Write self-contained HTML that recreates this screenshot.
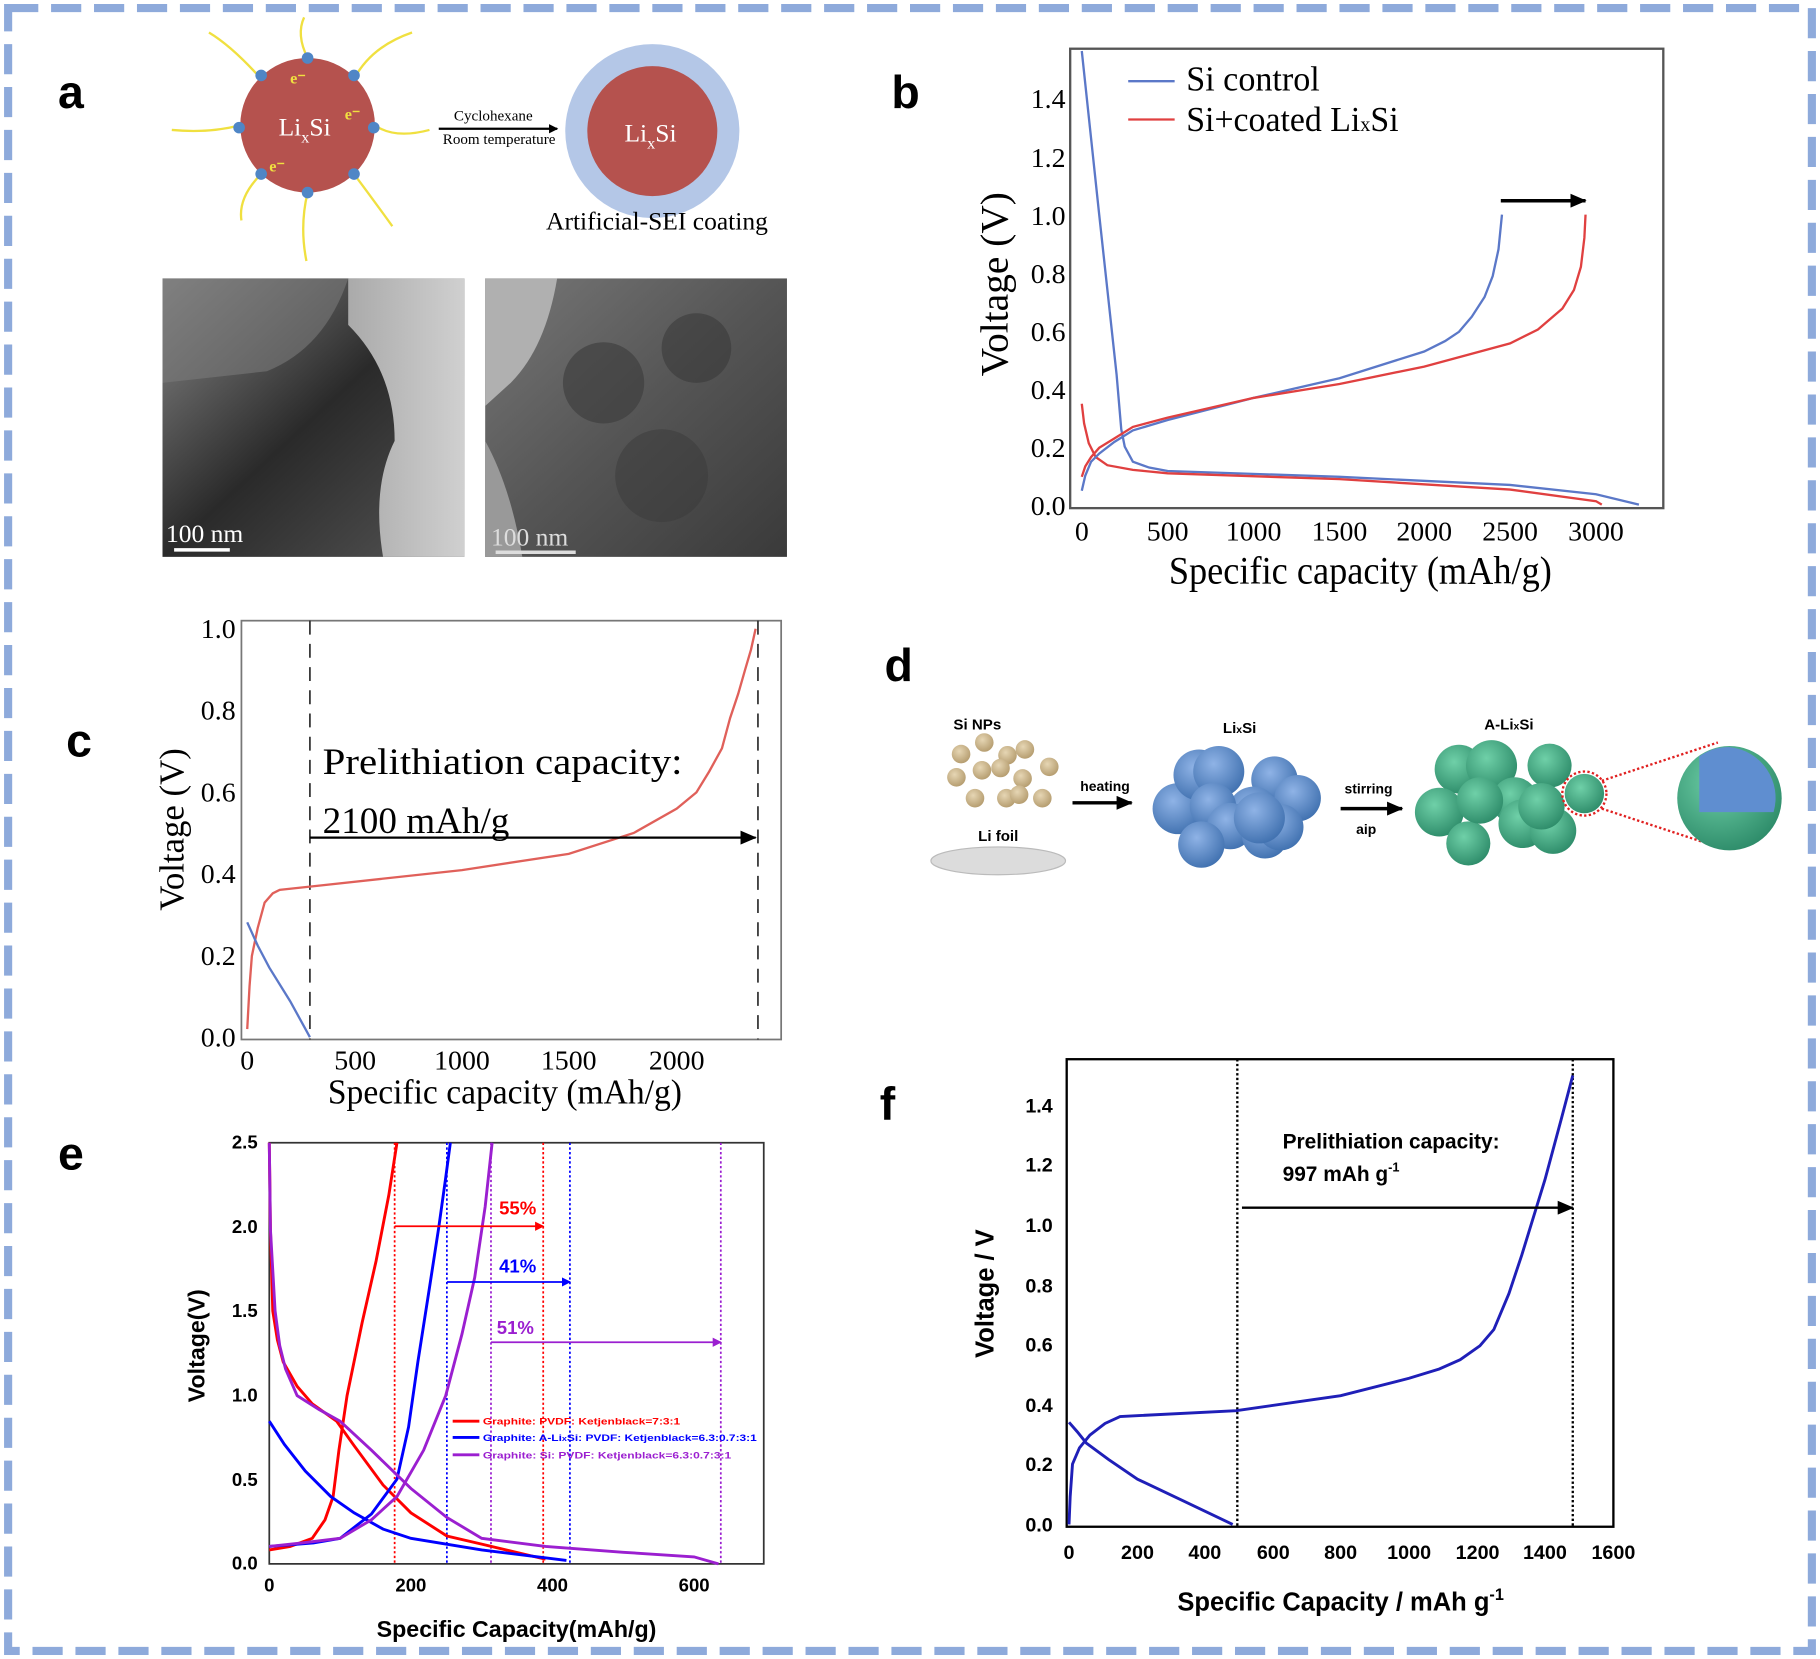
<!DOCTYPE html>
<html><head><meta charset="utf-8"><style>
html,body{margin:0;padding:0;background:#fff;}
svg{display:block;}
.serif{font-family:"Liberation Serif",serif;}
.sans{font-family:"Liberation Sans",sans-serif;}
</style></head><body>
<svg width="1820" height="1659" viewBox="0 0 1568 1430" preserveAspectRatio="none" xmlns="http://www.w3.org/2000/svg">
<defs>
<linearGradient id="tem1" x1="0" y1="0" x2="1" y2="1"><stop offset="0" stop-color="#8a8a8a"/><stop offset="0.5" stop-color="#2a2a2a"/><stop offset="1" stop-color="#555"/></linearGradient>
<linearGradient id="tem2" x1="0" y1="0" x2="1" y2="1"><stop offset="0" stop-color="#777"/><stop offset="0.5" stop-color="#555"/><stop offset="1" stop-color="#3a3a3a"/></linearGradient>
<linearGradient id="lt" x1="0" y1="0" x2="1" y2="0"><stop offset="0" stop-color="#aaa"/><stop offset="1" stop-color="#d0d0d0"/></linearGradient>
<radialGradient id="gb" cx="0.4" cy="0.35" r="0.7"><stop offset="0" stop-color="#8fb3e6"/><stop offset="1" stop-color="#3e6fae"/></radialGradient>
<radialGradient id="gg" cx="0.4" cy="0.35" r="0.7"><stop offset="0" stop-color="#6fd0a8"/><stop offset="1" stop-color="#2c8a68"/></radialGradient>
<radialGradient id="gt" cx="0.4" cy="0.35" r="0.7"><stop offset="0" stop-color="#e6d6b4"/><stop offset="1" stop-color="#b39a6c"/></radialGradient>
<marker id="ah" markerWidth="8" markerHeight="8" refX="7" refY="4" orient="auto" markerUnits="userSpaceOnUse"><path d="M0,0 L8,4 L0,8 z" fill="#000"/></marker>
<marker id="ahb" markerWidth="14" markerHeight="12" refX="13" refY="6" orient="auto" markerUnits="userSpaceOnUse"><path d="M0,0 L14,6 L0,12 z" fill="#000"/></marker>
<marker id="ar" markerWidth="8" markerHeight="8" refX="7" refY="4" orient="auto" markerUnits="userSpaceOnUse"><path d="M0,0 L8,4 L0,8 z" fill="#f00"/></marker>
<marker id="ab" markerWidth="8" markerHeight="8" refX="7" refY="4" orient="auto" markerUnits="userSpaceOnUse"><path d="M0,0 L8,4 L0,8 z" fill="#00f"/></marker>
<marker id="ap" markerWidth="8" markerHeight="8" refX="7" refY="4" orient="auto" markerUnits="userSpaceOnUse"><path d="M0,0 L8,4 L0,8 z" fill="#9b1fd0"/></marker>
</defs>
<rect x="7" y="7" width="1554" height="1416" fill="none" stroke="#8eaadb" stroke-width="7" stroke-dasharray="26,11"/>

<!-- panel a -->
<text x="50" y="93" class="sans" font-size="40" font-weight="bold">a</text>
<g stroke="#f0e040" stroke-width="2" fill="none">
<path d="M265,50 Q255,30 262,15"/><path d="M265,166 Q258,195 264,225"/><path d="M207,108 Q180,115 148,112"/>
<path d="M225,68 Q200,40 180,28"/><path d="M305,68 Q320,40 355,28"/><path d="M225,150 Q205,170 208,190"/><path d="M305,150 Q320,170 338,195"/><path d="M323,108 Q340,120 370,112"/>
</g>
<circle cx="265" cy="108" r="58" fill="#b5524e"/>
<g fill="#4f86c6"><circle cx="265" cy="50" r="5"/><circle cx="265" cy="166" r="5"/><circle cx="206" cy="110" r="5"/><circle cx="322" cy="110" r="5"/><circle cx="225" cy="65" r="5"/><circle cx="305" cy="65" r="5"/><circle cx="225" cy="150" r="5"/><circle cx="305" cy="150" r="5"/></g>
<text x="240" y="117" class="serif" font-size="22" fill="#fff">Li<tspan font-size="14" dy="6">x</tspan><tspan dy="-6">Si</tspan></text>
<text x="250" y="72" class="serif" font-size="14" fill="#f0e040" font-weight="bold">e⁻</text>
<text x="297" y="103" class="serif" font-size="14" fill="#f0e040" font-weight="bold">e⁻</text>
<text x="232" y="148" class="serif" font-size="14" fill="#f0e040" font-weight="bold">e⁻</text>
<line x1="378" y1="111" x2="480" y2="111" stroke="#000" stroke-width="2" marker-end="url(#ah)"/>
<text x="425" y="104" class="serif" font-size="13" text-anchor="middle">Cyclohexane</text>
<text x="430" y="124" class="serif" font-size="13" text-anchor="middle">Room temperature</text>
<circle cx="562" cy="113" r="75" fill="#b4c7e7"/>
<circle cx="562" cy="113" r="56" fill="#b5524e"/>
<text x="538" y="122" class="serif" font-size="22" fill="#fff">Li<tspan font-size="14" dy="6">x</tspan><tspan dy="-6">Si</tspan></text>
<text x="566" y="198" class="serif" font-size="22" text-anchor="middle">Artificial-SEI coating</text>
<rect x="140" y="240" width="260" height="240" fill="url(#tem1)"/>
<path d="M300,240 L400,240 L400,480 L330,480 Q320,420 340,380 Q340,320 300,280 Z" fill="url(#lt)"/>
<path d="M140,240 L300,240 Q280,300 230,320 L140,330 Z" fill="#7a7a7a" opacity="0.6"/>
<rect x="418" y="240" width="260" height="240" fill="url(#tem2)"/>
<path d="M418,240 L480,240 Q470,300 440,330 L418,350 Z" fill="#b0b0b0"/>
<path d="M418,380 Q440,420 450,480 L418,480 Z" fill="#999"/>
<circle cx="520" cy="330" r="35" fill="#3a3a3a" opacity="0.6"/><circle cx="600" cy="300" r="30" fill="#333" opacity="0.5"/><circle cx="570" cy="410" r="40" fill="#3a3a3a" opacity="0.5"/>
<text x="143" y="467" class="serif" font-size="22" fill="#fff">100 nm</text>
<line x1="150" y1="474" x2="198" y2="474" stroke="#fff" stroke-width="3"/>
<text x="423" y="470" class="serif" font-size="22" fill="#ddd">100 nm</text>
<line x1="427" y1="476" x2="496" y2="476" stroke="#ddd" stroke-width="3"/>

<!-- panel b -->
<text x="768" y="93" class="sans" font-size="40" font-weight="bold">b</text>
<rect x="922" y="42" width="511" height="396" fill="none" stroke="#555" stroke-width="2"/>
<g class="serif" font-size="24" text-anchor="end">
<text x="918" y="444">0.0</text><text x="918" y="394">0.2</text><text x="918" y="344">0.4</text><text x="918" y="294">0.6</text><text x="918" y="244">0.8</text><text x="918" y="194">1.0</text><text x="918" y="144">1.2</text><text x="918" y="93">1.4</text>
</g>
<g class="serif" font-size="24" text-anchor="middle">
<text x="932" y="466">0</text><text x="1006" y="466">500</text><text x="1080" y="466">1000</text><text x="1154" y="466">1500</text><text x="1227" y="466">2000</text><text x="1301" y="466">2500</text><text x="1375" y="466">3000</text>
</g>
<text x="1172" y="503" class="serif" font-size="34" text-anchor="middle" textLength="330" lengthAdjust="spacingAndGlyphs">Specific capacity (mAh/g)</text>
<text transform="translate(868,245) rotate(-90)" class="serif" font-size="34" text-anchor="middle">Voltage (V)</text>
<line x1="972" y1="70" x2="1012" y2="70" stroke="#5b78c8" stroke-width="2"/>
<line x1="972" y1="103" x2="1012" y2="103" stroke="#e04040" stroke-width="2"/>
<text x="1022" y="78" class="serif" font-size="30" textLength="115" lengthAdjust="spacingAndGlyphs">Si control</text>
<text x="1022" y="113" class="serif" font-size="30" textLength="183" lengthAdjust="spacingAndGlyphs">Si+coated Li<tspan font-size="18">x</tspan>Si</text>
<g fill="none" stroke-width="2">
<polyline stroke="#5b78c8" points="932,44 947,185 962,323 966,370 969,385 976,398 990,403 1006,406 1154,411 1301,418 1375,426 1412,435"/>
<polyline stroke="#e04040" points="932,348 934,365 938,382 944,394 954,401 976,405 1006,408 1154,413 1301,422 1375,432 1380,435"/>
<polyline stroke="#5b78c8" points="932,423 935,410 940,398 947,391 960,381 976,371 1006,362 1080,343 1154,326 1227,303 1245,294 1257,286 1268,273 1279,256 1286,238 1291,215 1294,185"/>
<polyline stroke="#e04040" points="932,411 935,402 940,394 947,386 960,378 976,368 1006,360 1080,343 1154,331 1227,316 1301,296 1325,284 1346,266 1356,250 1362,230 1365,205 1366,185"/>
</g>
<line x1="1293" y1="173" x2="1366" y2="173" stroke="#000" stroke-width="3" marker-end="url(#ahb)"/>

<!-- panel c -->
<text x="57" y="652" class="sans" font-size="40" font-weight="bold">c</text>
<rect x="208" y="535" width="465" height="361" fill="none" stroke="#777" stroke-width="1.5"/>
<g class="serif" font-size="24" text-anchor="end">
<text x="203" y="902">0.0</text><text x="203" y="832">0.2</text><text x="203" y="761">0.4</text><text x="203" y="691">0.6</text><text x="203" y="620">0.8</text><text x="203" y="550">1.0</text>
</g>
<g class="serif" font-size="24" text-anchor="middle">
<text x="213" y="922">0</text><text x="306" y="922">500</text><text x="398" y="922">1000</text><text x="490" y="922">1500</text><text x="583" y="922">2000</text>
</g>
<text x="435" y="951" class="serif" font-size="30" text-anchor="middle" textLength="305" lengthAdjust="spacingAndGlyphs">Specific capacity (mAh/g)</text>
<text transform="translate(158,715) rotate(-90)" class="serif" font-size="30" text-anchor="middle">Voltage (V)</text>
<line x1="267" y1="535" x2="267" y2="896" stroke="#333" stroke-width="1.5" stroke-dasharray="12,8"/>
<line x1="653" y1="535" x2="653" y2="896" stroke="#333" stroke-width="1.5" stroke-dasharray="12,8"/>
<text x="278" y="667" class="serif" font-size="32" textLength="310" lengthAdjust="spacingAndGlyphs">Prelithiation capacity:</text>
<text x="278" y="718" class="serif" font-size="32">2100 mAh/g</text>
<g fill="none" stroke-width="2">
<polyline stroke="#e0605a" points="213,887 215,850 217,824 222,800 228,778 235,770 241,767 269,764 398,750 490,736 546,718 583,697 600,683 611,665 622,645 629,619 636,598 642,577 647,560 651,542"/>
<polyline stroke="#5b78c8" points="213,795 222,815 232,834 250,863 267,894"/>
</g>
<line x1="267" y1="722" x2="651" y2="722" stroke="#000" stroke-width="2" marker-end="url(#ahb)"/>

<!-- panel d -->
<text x="762" y="587" class="sans" font-size="40" font-weight="bold">d</text>
<text x="842" y="629" class="sans" font-size="13" font-weight="bold" text-anchor="middle">Si NPs</text>
<g fill="url(#gt)">
<circle cx="828" cy="650" r="8"/><circle cx="848" cy="640" r="8"/><circle cx="868" cy="651" r="8"/><circle cx="883" cy="646" r="8"/><circle cx="904" cy="661" r="8"/><circle cx="846" cy="664" r="8"/><circle cx="862" cy="662" r="8"/><circle cx="881" cy="671" r="8"/><circle cx="824" cy="670" r="8"/><circle cx="840" cy="688" r="8"/><circle cx="867" cy="688" r="8"/><circle cx="898" cy="688" r="8"/><circle cx="878" cy="685" r="8"/>
</g>
<text x="860" y="725" class="sans" font-size="13" font-weight="bold" text-anchor="middle">Li foil</text>
<ellipse cx="860" cy="742" rx="58" ry="12" fill="#dcdcdc" stroke="#bbb"/>
<text x="952" y="682" class="sans" font-size="12" font-weight="bold" text-anchor="middle">heating</text>
<line x1="924" y1="692" x2="975" y2="692" stroke="#000" stroke-width="3" marker-end="url(#ahb)"/>
<text x="1068" y="632" class="sans" font-size="13" font-weight="bold" text-anchor="middle">Li<tspan font-size="9">x</tspan>Si</text>
<g fill="url(#gb)">
<circle cx="1015" cy="697" r="22"/><circle cx="1033" cy="668" r="22"/><circle cx="1098" cy="672" r="20"/><circle cx="1050" cy="665" r="22"/><circle cx="1080" cy="700" r="22"/><circle cx="1118" cy="688" r="20"/><circle cx="1045" cy="695" r="20"/><circle cx="1060" cy="712" r="20"/><circle cx="1090" cy="720" r="20"/><circle cx="1103" cy="713" r="20"/><circle cx="1035" cy="728" r="20"/><circle cx="1085" cy="705" r="22"/>
</g>
<text x="1179" y="684" class="sans" font-size="12" font-weight="bold" text-anchor="middle">stirring</text>
<text x="1177" y="719" class="sans" font-size="12" font-weight="bold" text-anchor="middle">aip</text>
<line x1="1155" y1="697" x2="1208" y2="697" stroke="#000" stroke-width="3" marker-end="url(#ahb)"/>
<text x="1300" y="629" class="sans" font-size="13" font-weight="bold" text-anchor="middle">A-Li<tspan font-size="9">x</tspan>Si</text>
<g fill="url(#gg)">
<circle cx="1257" cy="663" r="21"/><circle cx="1240" cy="700" r="21"/><circle cx="1265" cy="727" r="19"/><circle cx="1335" cy="660" r="19"/><circle cx="1285" cy="660" r="22"/><circle cx="1305" cy="690" r="20"/><circle cx="1275" cy="690" r="20"/><circle cx="1312" cy="710" r="21"/><circle cx="1338" cy="716" r="20"/><circle cx="1328" cy="695" r="20"/><circle cx="1365" cy="684" r="17"/>
</g>
<circle cx="1365" cy="684" r="19" fill="none" stroke="#e02020" stroke-width="2" stroke-dasharray="2,2"/>
<line x1="1380" y1="673" x2="1480" y2="640" stroke="#e02020" stroke-width="2" stroke-dasharray="2,2"/>
<line x1="1380" y1="697" x2="1480" y2="730" stroke="#e02020" stroke-width="2" stroke-dasharray="2,2"/>
<circle cx="1490" cy="688" r="45" fill="url(#gg)"/>
<path d="M1490,644 A44,44 0 0 0 1464,652 L1464,700 L1528,700 A44,44 0 0 0 1490,644 Z" fill="#5f8ed0"/>

<!-- panel e -->
<text x="50" y="1008" class="sans" font-size="40" font-weight="bold">e</text>
<rect x="232" y="985" width="426" height="363" fill="none" stroke="#333" stroke-width="1.5"/>
<g class="sans" font-size="16" font-weight="bold" text-anchor="end">
<text x="222" y="1353">0.0</text><text x="222" y="1281">0.5</text><text x="222" y="1208">1.0</text><text x="222" y="1135">1.5</text><text x="222" y="1063">2.0</text><text x="222" y="990">2.5</text>
</g>
<g class="sans" font-size="16" font-weight="bold" text-anchor="middle">
<text x="232" y="1372">0</text><text x="354" y="1372">200</text><text x="476" y="1372">400</text><text x="598" y="1372">600</text>
</g>
<text x="445" y="1411" class="sans" font-size="20" font-weight="bold" text-anchor="middle">Specific Capacity(mAh/g)</text>
<text transform="translate(176,1160) rotate(-90)" class="sans" font-size="20" font-weight="bold" text-anchor="middle">Voltage(V)</text>
<g stroke-width="1.5" stroke-dasharray="2,2">
<line x1="340" y1="985" x2="340" y2="1348" stroke="#f00"/><line x1="468" y1="985" x2="468" y2="1348" stroke="#f00"/>
<line x1="385" y1="985" x2="385" y2="1348" stroke="#00f"/><line x1="491" y1="985" x2="491" y2="1348" stroke="#00f"/>
<line x1="423" y1="985" x2="423" y2="1348" stroke="#9b1fd0"/><line x1="621" y1="985" x2="621" y2="1348" stroke="#9b1fd0"/>
</g>
<g fill="none" stroke-width="2.5">
<polyline stroke="#f00" points="232,985 233,1060 235,1130 239,1155 244,1174 256,1195 269,1210 290,1225 305,1246 330,1280 354,1304 385,1324 415,1331 470,1344"/>
<polyline stroke="#f00" points="232,1336 250,1333 269,1326 280,1310 287,1290 292,1250 299,1203 312,1140 324,1087 335,1030 342,985"/>
<polyline stroke="#00f" points="232,1225 245,1245 263,1268 285,1290 305,1304 330,1318 354,1326 415,1336 488,1345"/>
<polyline stroke="#00f" points="232,1333 270,1330 293,1326 320,1305 342,1275 352,1230 360,1174 370,1110 378,1058 384,1015 388,985"/>
<polyline stroke="#9b1fd0" points="232,985 233,1060 237,1130 241,1160 246,1180 256,1203 275,1215 293,1225 320,1250 354,1283 385,1308 415,1326 470,1333 537,1338 598,1342 619,1348"/>
<polyline stroke="#9b1fd0" points="232,1333 260,1330 293,1326 320,1310 342,1290 365,1250 384,1203 398,1150 409,1101 418,1040 424,985"/>
</g>
<line x1="340" y1="1057" x2="468" y2="1057" stroke="#f00" stroke-width="1.5" marker-end="url(#ar)"/>
<line x1="385" y1="1105" x2="491" y2="1105" stroke="#00f" stroke-width="1.5" marker-end="url(#ab)"/>
<line x1="423" y1="1157" x2="621" y2="1157" stroke="#9b1fd0" stroke-width="1.5" marker-end="url(#ap)"/>
<text x="430" y="1047" class="sans" font-size="16" font-weight="bold" fill="#f00">55%</text>
<text x="430" y="1097" class="sans" font-size="16" font-weight="bold" fill="#00f">41%</text>
<text x="428" y="1150" class="sans" font-size="16" font-weight="bold" fill="#9b1fd0">51%</text>
<line x1="390" y1="1225" x2="413" y2="1225" stroke="#f00" stroke-width="2.5"/>
<line x1="390" y1="1239" x2="413" y2="1239" stroke="#00f" stroke-width="2.5"/>
<line x1="390" y1="1254" x2="413" y2="1254" stroke="#9b1fd0" stroke-width="2.5"/>
<g class="sans" font-size="8" font-weight="bold">
<text x="416" y="1228" fill="#f00" textLength="170" lengthAdjust="spacingAndGlyphs">Graphite:  PVDF:  Ketjenblack=7:3:1</text>
<text x="416" y="1242" fill="#00f" textLength="236" lengthAdjust="spacingAndGlyphs">Graphite:  A-Li<tspan font-size="6">x</tspan>Si:  PVDF:  Ketjenblack=6.3:0.7:3:1</text>
<text x="416" y="1257" fill="#9b1fd0" textLength="214" lengthAdjust="spacingAndGlyphs">Graphite:  Si:  PVDF:  Ketjenblack=6.3:0.7:3:1</text>
</g>

<!-- panel f -->
<text x="758" y="965" class="sans" font-size="40" font-weight="bold">f</text>
<rect x="919" y="913" width="471" height="403" fill="none" stroke="#000" stroke-width="2"/>
<g class="sans" font-size="17" font-weight="bold" text-anchor="end">
<text x="907" y="1320">0.0</text><text x="907" y="1268">0.2</text><text x="907" y="1217">0.4</text><text x="907" y="1165">0.6</text><text x="907" y="1114">0.8</text><text x="907" y="1062">1.0</text><text x="907" y="1010">1.2</text><text x="907" y="959">1.4</text>
</g>
<g class="sans" font-size="17" font-weight="bold" text-anchor="middle">
<text x="921" y="1344">0</text><text x="980" y="1344">200</text><text x="1038" y="1344">400</text><text x="1097" y="1344">600</text><text x="1155" y="1344">800</text><text x="1214" y="1344">1000</text><text x="1273" y="1344">1200</text><text x="1331" y="1344">1400</text><text x="1390" y="1344">1600</text>
</g>
<text x="1155" y="1388" class="sans" font-size="22" font-weight="bold" text-anchor="middle">Specific Capacity / mAh g<tspan font-size="14" dy="-9">-1</tspan></text>
<text transform="translate(856,1115) rotate(-90)" class="sans" font-size="22" font-weight="bold" text-anchor="middle">Voltage / V</text>
<line x1="1066" y1="913" x2="1066" y2="1316" stroke="#000" stroke-width="2" stroke-dasharray="2,2"/>
<line x1="1355" y1="913" x2="1355" y2="1316" stroke="#000" stroke-width="2" stroke-dasharray="2,2"/>
<text x="1105" y="990" class="sans" font-size="18" font-weight="bold">Prelithiation capacity:</text>
<text x="1105" y="1018" class="sans" font-size="18" font-weight="bold">997 mAh g<tspan font-size="11" dy="-8">-1</tspan></text>
<g fill="none" stroke="#1f1fb8" stroke-width="2.5">
<polyline points="921,1314 922,1290 924,1262 930,1248 939,1237 952,1227 965,1221 1065,1216 1155,1203 1214,1188 1240,1180 1258,1172 1275,1160 1287,1146 1300,1115 1311,1082 1331,1017 1345,965 1355,927"/>
<polyline points="921,1226 928,1234 936,1244 955,1258 980,1275 1020,1294 1062,1314"/>
</g>
<line x1="1070" y1="1041" x2="1355" y2="1041" stroke="#000" stroke-width="2" marker-end="url(#ahb)"/>
</svg>
</body></html>
